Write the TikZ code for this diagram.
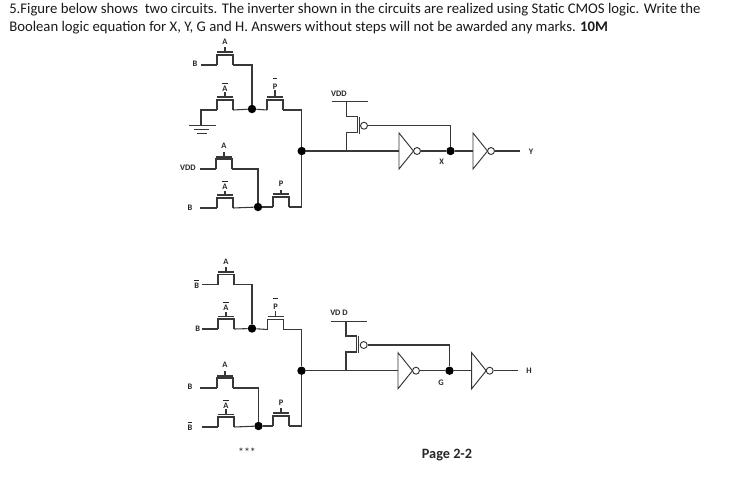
\documentclass[tikz,border=0pt]{standalone}
\usepackage{fontspec}
\setmainfont{Carlito}
\newcommand{\hd}{\fontsize{11.04}{13}\selectfont}
\newcommand{\lb}{\fontsize{6.3}{7}\selectfont\bfseries}
% \passgate{name}{left x}{wire y}{bar y}{stem top y}{label y}{label}
\newcommand{\passgate}[7]{%
  \coordinate (#1-s) at (#2,#3);
  \coordinate (#1-d) at ({#2+16},#3);
  \coordinate (#1-g) at ({#2+8},#4);
  \coordinate (#1-t) at ({#2+8},#5);
  \draw[wire] (#1-s) -- ++(0,-10) -- ++(16,0) -- (#1-d);
  \draw[wire] ({#2},#4) -- ({#2+16},#4);
  \draw[wire] (#1-g) -- (#1-t);
  \node[lab] (#1-l) at ({#2+8},#6) {#7};
}
\tikzset{
  wire/.style={line width=0.8pt,draw=black!78},
  lab/.style={inner sep=0pt,font=\lb,text=black!85},
  heading/.style={inner sep=0pt,anchor=west,font=\hd,text=black!90},
  dot/.style={circle,fill=black,inner sep=0pt,minimum size=6.3pt},
  bubble/.style={circle,draw=black!80,fill=white,line width=0.7pt,inner sep=0pt,minimum size=5.2pt},
  tri/.style={line width=0.7pt,draw=black!80,fill=white}
}
\newcommand{\ovl}[1]{$\overline{\mbox{#1}}$}
\newcommand{\ovlh}[1]{\vphantom{#1}\smash{$\overline{\rule{0pt}{7.2pt}\mbox{#1}}$}}
% \inverter{name}{base x}{mid y}
\newcommand{\inverter}[3]{%
  \coordinate (#1-in) at (#2,#3);
  \draw[tri] ({#2},{#3-18}) -- ({#2+14.5},#3) -- ({#2},{#3+18}) -- cycle;
  \node[bubble] (#1-b) at ({#2+18},#3) {};
}
\begin{document}
\begin{tikzpicture}[x=0.75pt,y=-0.75pt]
\useasboundingbox (0,0) rectangle (737,480);
\node[heading] (h1) at (9,10) {5.Figure below shows\ \ two circuits. The inverter shown in the circuits are realized using Static CMOS logic. Write the};
\node[heading] (h2) at (9,28) {Boolean logic equation for X, Y, G and H. Answers without steps will not be awarded any marks. \textbf{10M}};

%%%% top circuit
\passgate{a1}{217}{65}{52}{47}{42}{A}
\passgate{a2}{217}{110}{97}{92}{87}{\ovl{A}}
\passgate{a3}{267}{110}{97}{90}{87}{\ovlh{P}}
\passgate{a4}{216}{169}{157}{152}{146}{A}
\passgate{a5}{217}{208}{195}{191}{185}{\ovl{A}}
\passgate{a6}{273}{207}{194}{190}{184}{P}
\node[dot] (aj1) at (252,109) {};
\node[dot] (aj2) at (258,207) {};
\node[dot] (aj3) at (301.7,151) {};
\node[lab] (aB1) at (195,64) {B};
\node[lab] (aV) at (188,168) {VDD};
\node[lab] (aB2) at (190,207.5) {B};
\coordinate (aB1w) at (201,65);
\coordinate (aVw) at (200,169);
\coordinate (aB2w) at (200,208);
\coordinate (agnd) at (201,125.7);
\draw[wire] (aB1w) -- (a1-s);
\draw[wire] (a1-d) -| (aj1);
\draw[wire] (agnd) |- (a2-s);
\draw[wire] (a2-d) -- (aj1);
\draw[wire] (aj1) -- (a3-s);
\draw[wire] (a3-d) -| (aj3);
\draw[wire] (aVw) -- (a4-s);
\draw[wire] (a4-d) -| (aj2);
\draw[wire] (aB2w) -- (a5-s);
\draw[wire] (a5-d) -- (aj2);
\draw[wire] (aj2) -- (a6-s);
\draw[wire] (a6-d) -| (aj3);
\draw[wire] (189,125.7) -- (216,125.7);
\draw[wire] (194,129.5) -- (209,129.5);
\draw[wire] (197,133.5) -- (207,133.5);
% keeper and inverters
\node[lab] (aVk) at (339,94) {VDD};
\coordinate (avl) at (331.7,101.7);
\coordinate (avr) at (368,101.7);
\coordinate (avm) at (346.7,101.7);
\coordinate (aout) at (346.7,151);
\draw[wire] (avl) -- (avr);
\draw[wire] (avm) -- (346.7,116.7) -- (357.5,116.7) -- (357.5,132.7) -- (346.7,132.7) -- (aout);
\draw[wire] (359.5,116.5) -- (359.5,133.5);
\node[bubble] (akb) at (364,125.7) {};
\inverter{ai1}{399}{151}
\inverter{ai2}{473}{151}
\node[dot] (ajx) at (450.5,151) {};
\coordinate (aYw) at (520,151);
\draw[wire] (aj3) -- (ai1-in);
\draw[wire] (akb) -| (ajx);
\draw[wire] (ai1-b) -- (ajx);
\draw[wire] (ajx) -- (ai2-in);
\draw[wire] (ai2-b) -- (aYw);
\node[lab] (aX) at (441.7,162) {X};
\node[lab] (aY) at (531,152) {Y};

%%%% bottom circuit
\passgate{b1}{218}{284.7}{272}{267}{262}{A}
\passgate{b2}{218}{329}{316.7}{312}{306}{\ovl{A}}
\passgate{b3}{267.7}{329.5}{316.7}{311}{306.5}{\ovlh{P}}
\passgate{b4}{217}{388}{376}{371}{365}{A}
\passgate{b5}{218}{427}{414.7}{409}{404}{\ovl{A}}
\passgate{b6}{273}{426}{413}{408}{403}{P}
\node[dot] (bj1) at (252,328.5) {};
\node[dot] (bj2) at (258.5,426) {};
\node[dot] (bj3) at (301.5,370.7) {};
\node[lab] (bB1) at (196.7,284) {\ovl{B}};
\node[lab] (bB2) at (197.7,329) {B};
\node[lab] (bB3) at (190,387) {B};
\node[lab] (bB4) at (190,426) {\ovl{B}};
\coordinate (bB1w) at (202,284.7);
\coordinate (bB2w) at (202,329);
\coordinate (bB3w) at (200,388);
\coordinate (bB4w) at (201.7,427);
\draw[wire] (bB1w) -- (b1-s);
\draw[wire] (b1-d) -| (bj1);
\draw[wire] (bB2w) -- (b2-s);
\draw[wire] (b2-d) -- (bj1);
\draw[wire] (bj1) -- (b3-s);
\draw[wire] (b3-d) -| (bj3);
\draw[wire] (bB3w) -- (b4-s);
\draw[wire] (b4-d) -| (bj2);
\draw[wire] (bB4w) -- (b5-s);
\draw[wire] (b5-d) -- (bj2);
\draw[wire] (bj2) -- (b6-s);
\draw[wire] (b6-d) -| (bj3);
\node[lab] (bVk) at (339,313) {VD D};
\coordinate (bvl) at (331,321.3);
\coordinate (bvr) at (367,321.3);
\coordinate (bvm) at (346,321.3);
\coordinate (bout) at (346,370.7);
\draw[wire] (bvl) -- (bvr);
\draw[wire] (bvm) -- (346,336) -- (356.5,336) -- (356.5,352) -- (346,352) -- (bout);
\draw[wire] (358.5,336) -- (358.5,352.5);
\node[bubble] (bkb) at (363.7,345) {};
\inverter{bi1}{398}{370.7}
\inverter{bi2}{471.7}{370.7}
\node[dot] (bjg) at (449.5,370.7) {};
\coordinate (bHw) at (518,370.7);
\draw[wire] (bj3) -- (bi1-in);
\draw[wire] (bkb) -| (bjg);
\draw[wire] (bi1-b) -- (bjg);
\draw[wire] (bjg) -- (bi2-in);
\draw[wire] (bi2-b) -- (bHw);
\node[lab] (bG) at (441,382.5) {G};
\node[lab] (bH) at (529,371) {H};

\node[lab,font=\fontsize{9}{10}\selectfont] (stars) at (247,452.5) {***};
\node[inner sep=0pt,font=\fontsize{10.7}{12}\selectfont\bfseries,text=black!85] (page) at (447,455) {Page 2-2};
\end{tikzpicture}
\end{document}
